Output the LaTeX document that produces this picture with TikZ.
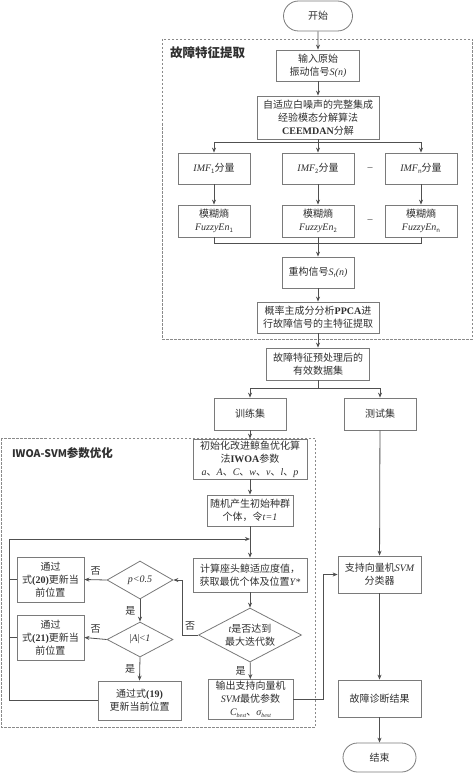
\documentclass[tikz,border=0pt]{standalone}
\usepackage{fontspec}
\setmainfont{Noto Sans CJK SC}
\newfontfamily\latf{Liberation Serif}
\usetikzlibrary{arrows.meta,shapes.geometric,shapes.misc}
\newcommand{\li}[1]{{\latf\itshape #1}}
\newcommand{\lb}[1]{{\latf\bfseries #1}}
\newcommand{\lsb}[1]{\raisebox{-0.4ex}{\fontsize{6}{6}\selectfont #1}}
\definecolor{boxc}{HTML}{7A7A7A}
\definecolor{linec}{HTML}{505050}
\definecolor{txt}{HTML}{303030}
\definecolor{dashc}{HTML}{8A8A8A}
\tikzset{
  box/.style={draw=boxc, line width=0.8pt, fill=white, align=center, inner sep=0pt,
    font=\fontsize{10}{13}\selectfont, text=txt},
  term/.style={box, rounded rectangle},
  dia/.style={box, diamond, aspect=2},
  arr/.style={draw=linec, line width=0.8pt, -{Stealth[length=5pt,width=4pt]}},
  ln/.style={draw=linec, line width=0.8pt},
  grp/.style={draw=dashc, line width=0.9pt, dash pattern=on 2.5pt off 1.5pt},
  ttl/.style={font=\fontsize{12.5}{14}\selectfont\bfseries, text=txt},
  lab/.style={font=\fontsize{10}{12}\selectfont, text=txt},
}
\begin{document}
\begin{tikzpicture}[x=1pt,y=-1pt]
\useasboundingbox[fill=white] (0,0) rectangle (474,773);
% group frames
\draw[grp] (162,39) rectangle (472,339);
\draw[grp] (1,438) rectangle (315,727);
\node[ttl] (t1) at (207.5,53) {故障特征提取};
\node[ttl, font=\fontsize{11.5}{14}\selectfont\bfseries] (t2) at (62.5,453) {{\fontsize{10.5}{14}\selectfont IWOA-SVM}参数优化};
% nodes
\node[term, minimum width=69, minimum height=30] (start) at (318,16) {开始};
\node[box, minimum width=83, minimum height=31] (in) at (318,65.5) {输入原始\\振动信号\li{S(n)}};
\node[box, minimum width=122, minimum height=43] (ceem) at (318,117.5) {自适应白噪声的完整集成\\经验模态分解算法\\\lb{CEEMDAN}分解};
\node[box, minimum width=72, minimum height=31] (imf1) at (214,168.5) {\li{IMF}\lsb{1}分量};
\node[box, minimum width=72, minimum height=31] (imf2) at (318,168.5) {\li{IMF}\lsb{2}分量};
\node[box, minimum width=72, minimum height=31] (imf3) at (421,168.5) {\li{IMF}\lsb{n}分量};
\node[lab] (d1) at (370,169) {\latf –};
\node[box, minimum width=72, minimum height=32] (fz1) at (214,221) {模糊熵\\\li{FuzzyEn}\lsb{1}};
\node[box, minimum width=72, minimum height=32] (fz2) at (318,221) {模糊熵\\\li{FuzzyEn}\lsb{2}};
\node[box, minimum width=72, minimum height=32] (fz3) at (421,221) {模糊熵\\\li{FuzzyEn}\lsb{n}};
\node[lab] (d2) at (370,221) {\latf –};
\node[box, minimum width=72, minimum height=31] (rec) at (318,272.5) {重构信号\li{S}\lsb{r}\li{(n)}};
\node[box, minimum width=122, minimum height=31] (ppca) at (318,317.5) {概率主成分分析\lb{PPCA}进\\行故障信号的主特征提取};
\node[box, minimum width=103, minimum height=32] (eff) at (318,364) {故障特征预处理后的\\有效数据集};
\node[box, minimum width=72, minimum height=32] (train) at (250,414) {训练集};
\node[box, minimum width=72, minimum height=32] (test) at (380,414) {测试集};
\node[box, minimum width=114, minimum height=40] (init) at (250,459) {初始化改进鲸鱼优化算\\法\lb{IWOA}参数\\\li{a}、\li{A}、\li{C}、\li{w}、\li{v}、\li{l}、\li{p}};
\node[box, minimum width=86, minimum height=31] (rand) at (250,510.5) {随机产生初始种群\\个体，令\li{t=1}};
\node[box, minimum width=114, minimum height=34] (fit) at (250,575) {计算座头鲸适应度值，\\获取最优个体及位置\li{Y*}};
\node[dia, minimum width=103, minimum height=54] (tdia) at (250,635) {\li{t}是否达到\\最大迭代数};
\node[box, minimum width=85, minimum height=40] (out) at (250.5,699.5) {输出支持向量机\\\li{SVM}最优参数\\\li{C}\lsb{\li{best}}、\li{σ}\lsb{\li{best}}};
\node[dia, minimum width=66, minimum height=38] (pdia) at (140,580) {\li{p<0.5}};
\node[dia, minimum width=66, minimum height=35] (adia) at (140,639.5) {\latf |\li{A}|<\li{1}};
\node[box, minimum width=67, minimum height=45] (b20) at (50.5,579.5) {通过\\式\lb{(20)}更新当\\前位置};
\node[box, minimum width=67, minimum height=45] (b21) at (50.5,637.5) {通过\\式\lb{(21)}更新当\\前位置};
\node[box, minimum width=83, minimum height=39] (b19) at (139.5,700.5) {通过式\lb{(19)}\\更新当前位置};
\node[box, minimum width=83, minimum height=37] (svm) at (379.5,574.5) {支持向量机\li{SVM}\\分类器};
\node[box, minimum width=83, minimum height=37] (res) at (379.5,698.5) {故障诊断结果};
\node[term, minimum width=73, minimum height=29] (end) at (379.5,757.5) {结束};
% coordinates
\coordinate (br) at (318,142);
\coordinate (mg) at (318,243);
\coordinate (sp) at (318,388);
\coordinate (fb0) at (9,539);
\coordinate (fb1) at (250,539);
\coordinate (oc) at (323,699.5);
% connectors
\draw[arr] (start) -- (in);
\draw[arr] (in) -- (ceem);
\draw[ln] (ceem.south) -- (br);
\draw[arr] (br) -| (imf1.north);
\draw[arr] (br) -- (imf2.north);
\draw[arr] (br) -| (imf3.north);
\draw[arr] (imf1) -- (fz1);
\draw[arr] (imf2) -- (fz2);
\draw[arr] (imf3) -- (fz3);
\draw[ln] (fz1.south) |- (mg);
\draw[ln] (fz3.south) |- (mg);
\draw[arr] (fz2.south) -- (rec.north);
\draw[arr] (rec) -- (ppca);
\draw[arr] (ppca) -- (eff);
\draw[ln] (eff.south) -- (sp);
\draw[arr] (sp) -| (train.north);
\draw[arr] (sp) -| (test.north);
\draw[arr] (train) -- (init);
\draw[arr] (init) -- (rand);
\draw[arr] (rand) -- (fit);
\draw[arr] (fit) -- (tdia);
\draw[arr] (tdia) -- node[lab, pos=0.5, left=1pt] {是} (out);
\draw[arr] (tdia.west) -- ++(-16,0) node[lab, pos=0.5, above=1pt] {否} |- (pdia.east);
\draw[arr] (pdia.west) -- node[lab, above=1pt] {否} (b20.east);
\draw[arr] (pdia.south) -- node[lab, left=1pt] {是} (adia.north);
\draw[arr] (adia.west) -- node[lab, above=1pt] {否} (b21.east);
\draw[arr] (adia.south) -- node[lab, left=1pt] {是} (b19.north);
\draw[arr] (b19.west) -| (fb0) -- (fb1);
\draw[ln] (b20.west) -- (b20.west -| fb0);
\draw[ln] (b21.west) -- (b21.west -| fb0);
\draw[arr] (out.east) -- (oc) |- (svm.west);
\draw[arr] (test) -- (svm);
\draw[arr] (svm) -- (res);
\draw[arr] (res) -- (end);
\end{tikzpicture}
\end{document}
